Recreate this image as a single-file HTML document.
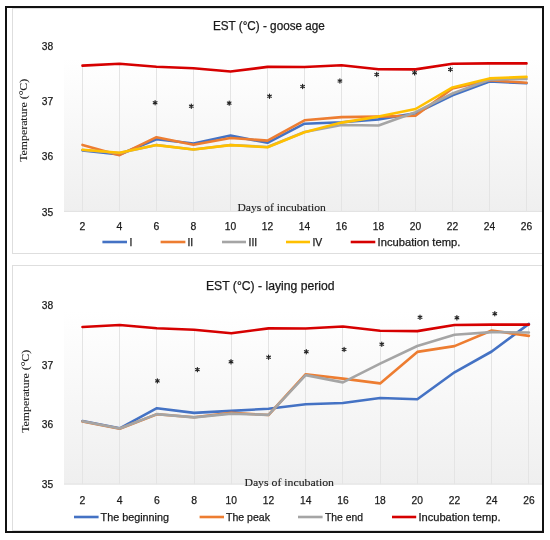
<!DOCTYPE html>
<html><head><meta charset="utf-8"><style>html,body{margin:0;padding:0;background:#fff;}svg{display:block;will-change:transform;}</style></head>
<body><svg width="550" height="540" viewBox="0 0 550 540"><rect width="550" height="540" fill="#fff"/><rect x="12.5" y="8.5" width="530" height="245" fill="#fff" stroke="#dedede" stroke-width="1"/><defs><linearGradient id="g1" x1="0" y1="0" x2="0" y2="1"><stop offset="0" stop-color="#ffffff"/><stop offset="1" stop-color="#efefef"/></linearGradient></defs><rect x="64" y="58" width="480" height="153.4" fill="url(#g1)"/><line x1="64" y1="211.4" x2="544" y2="211.4" stroke="#e0e0e0" stroke-width="1"/><line x1="82.5" y1="65.6" x2="82.5" y2="211.4" stroke="#e4e4e4" stroke-width="1"/><line x1="119.5" y1="63.8" x2="119.5" y2="211.4" stroke="#e4e4e4" stroke-width="1"/><line x1="156.5" y1="66.8" x2="156.5" y2="211.4" stroke="#e4e4e4" stroke-width="1"/><line x1="193.5" y1="68.2" x2="193.5" y2="211.4" stroke="#e4e4e4" stroke-width="1"/><line x1="230.5" y1="71.5" x2="230.5" y2="211.4" stroke="#e4e4e4" stroke-width="1"/><line x1="267.5" y1="66.9" x2="267.5" y2="211.4" stroke="#e4e4e4" stroke-width="1"/><line x1="304.5" y1="67.0" x2="304.5" y2="211.4" stroke="#e4e4e4" stroke-width="1"/><line x1="341.5" y1="65.2" x2="341.5" y2="211.4" stroke="#e4e4e4" stroke-width="1"/><line x1="378.5" y1="69.2" x2="378.5" y2="211.4" stroke="#e4e4e4" stroke-width="1"/><line x1="415.5" y1="69.4" x2="415.5" y2="211.4" stroke="#e4e4e4" stroke-width="1"/><line x1="452.5" y1="63.8" x2="452.5" y2="211.4" stroke="#e4e4e4" stroke-width="1"/><line x1="489.5" y1="63.4" x2="489.5" y2="211.4" stroke="#e4e4e4" stroke-width="1"/><line x1="526.5" y1="63.4" x2="526.5" y2="211.4" stroke="#e4e4e4" stroke-width="1"/><text x="53.2" y="49.6" font-size="11" font-family="Liberation Sans, sans-serif" fill="#1a1a1a" stroke="#1a1a1a" stroke-width="0.25" text-anchor="end" textLength="11.4" lengthAdjust="spacingAndGlyphs" >38</text><text x="53.2" y="104.9" font-size="11" font-family="Liberation Sans, sans-serif" fill="#1a1a1a" stroke="#1a1a1a" stroke-width="0.25" text-anchor="end" textLength="11.4" lengthAdjust="spacingAndGlyphs" >37</text><text x="53.2" y="160.3" font-size="11" font-family="Liberation Sans, sans-serif" fill="#1a1a1a" stroke="#1a1a1a" stroke-width="0.25" text-anchor="end" textLength="11.4" lengthAdjust="spacingAndGlyphs" >36</text><text x="53.2" y="215.6" font-size="11" font-family="Liberation Sans, sans-serif" fill="#1a1a1a" stroke="#1a1a1a" stroke-width="0.25" text-anchor="end" textLength="11.4" lengthAdjust="spacingAndGlyphs" >35</text><text x="82.5" y="229.7" font-size="11" font-family="Liberation Sans, sans-serif" fill="#1a1a1a" stroke="#1a1a1a" stroke-width="0.25" text-anchor="middle" textLength="5.8" lengthAdjust="spacingAndGlyphs" >2</text><text x="119.5" y="229.7" font-size="11" font-family="Liberation Sans, sans-serif" fill="#1a1a1a" stroke="#1a1a1a" stroke-width="0.25" text-anchor="middle" textLength="5.8" lengthAdjust="spacingAndGlyphs" >4</text><text x="156.5" y="229.7" font-size="11" font-family="Liberation Sans, sans-serif" fill="#1a1a1a" stroke="#1a1a1a" stroke-width="0.25" text-anchor="middle" textLength="5.8" lengthAdjust="spacingAndGlyphs" >6</text><text x="193.5" y="229.7" font-size="11" font-family="Liberation Sans, sans-serif" fill="#1a1a1a" stroke="#1a1a1a" stroke-width="0.25" text-anchor="middle" textLength="5.8" lengthAdjust="spacingAndGlyphs" >8</text><text x="230.5" y="229.7" font-size="11" font-family="Liberation Sans, sans-serif" fill="#1a1a1a" stroke="#1a1a1a" stroke-width="0.25" text-anchor="middle" textLength="11.4" lengthAdjust="spacingAndGlyphs" >10</text><text x="267.5" y="229.7" font-size="11" font-family="Liberation Sans, sans-serif" fill="#1a1a1a" stroke="#1a1a1a" stroke-width="0.25" text-anchor="middle" textLength="11.4" lengthAdjust="spacingAndGlyphs" >12</text><text x="304.5" y="229.7" font-size="11" font-family="Liberation Sans, sans-serif" fill="#1a1a1a" stroke="#1a1a1a" stroke-width="0.25" text-anchor="middle" textLength="11.4" lengthAdjust="spacingAndGlyphs" >14</text><text x="341.5" y="229.7" font-size="11" font-family="Liberation Sans, sans-serif" fill="#1a1a1a" stroke="#1a1a1a" stroke-width="0.25" text-anchor="middle" textLength="11.4" lengthAdjust="spacingAndGlyphs" >16</text><text x="378.5" y="229.7" font-size="11" font-family="Liberation Sans, sans-serif" fill="#1a1a1a" stroke="#1a1a1a" stroke-width="0.25" text-anchor="middle" textLength="11.4" lengthAdjust="spacingAndGlyphs" >18</text><text x="415.5" y="229.7" font-size="11" font-family="Liberation Sans, sans-serif" fill="#1a1a1a" stroke="#1a1a1a" stroke-width="0.25" text-anchor="middle" textLength="11.4" lengthAdjust="spacingAndGlyphs" >20</text><text x="452.5" y="229.7" font-size="11" font-family="Liberation Sans, sans-serif" fill="#1a1a1a" stroke="#1a1a1a" stroke-width="0.25" text-anchor="middle" textLength="11.4" lengthAdjust="spacingAndGlyphs" >22</text><text x="489.5" y="229.7" font-size="11" font-family="Liberation Sans, sans-serif" fill="#1a1a1a" stroke="#1a1a1a" stroke-width="0.25" text-anchor="middle" textLength="11.4" lengthAdjust="spacingAndGlyphs" >24</text><text x="526.5" y="229.7" font-size="11" font-family="Liberation Sans, sans-serif" fill="#1a1a1a" stroke="#1a1a1a" stroke-width="0.25" text-anchor="middle" textLength="11.4" lengthAdjust="spacingAndGlyphs" >26</text><polyline points="82.5,150.5 119.5,154.5 156.5,139.2 193.5,143.5 230.5,135.6 267.5,142.8 304.5,123.7 341.5,122.2 378.5,119.4 415.5,113.3 452.5,95.3 489.5,81.5 526.5,83.2" fill="none" stroke="#4472C4" stroke-width="2.6" stroke-linejoin="round" stroke-linecap="round"/><polyline points="82.5,144.9 119.5,155.2 156.5,137.2 193.5,144.8 230.5,138.0 267.5,140.6 304.5,120.3 341.5,117.1 378.5,116.6 415.5,115.8 452.5,88.5 489.5,80.2 526.5,82.7" fill="none" stroke="#ED7D31" stroke-width="2.6" stroke-linejoin="round" stroke-linecap="round"/><polyline points="82.5,150.0 119.5,153.0 156.5,145.0 193.5,149.5 230.5,145.0 267.5,147.0 304.5,132.0 341.5,125.0 378.5,125.5 415.5,112.2 452.5,93.5 489.5,79.7 526.5,78.9" fill="none" stroke="#A5A5A5" stroke-width="2.6" stroke-linejoin="round" stroke-linecap="round"/><polyline points="82.5,149.8 119.5,152.8 156.5,145.1 193.5,149.5 230.5,145.1 267.5,147.2 304.5,132.3 341.5,122.6 378.5,116.6 415.5,109.0 452.5,87.4 489.5,78.4 526.5,76.9" fill="none" stroke="#FFC000" stroke-width="2.6" stroke-linejoin="round" stroke-linecap="round"/><polyline points="82.5,65.6 119.5,63.8 156.5,66.8 193.5,68.2 230.5,71.5 267.5,66.9 304.5,67.0 341.5,65.2 378.5,69.2 415.5,69.4 452.5,63.8 489.5,63.4 526.5,63.4" fill="none" stroke="#D60000" stroke-width="2.6" stroke-linejoin="round" stroke-linecap="round"/><path d="M155.10,100.60L155.10,104.80M156.92,101.65L153.28,103.75M156.92,103.75L153.28,101.65" stroke="#262626" stroke-width="1.2" stroke-linecap="round"/><path d="M191.30,104.10L191.30,108.30M193.12,105.15L189.48,107.25M193.12,107.25L189.48,105.15" stroke="#262626" stroke-width="1.2" stroke-linecap="round"/><path d="M229.20,101.00L229.20,105.20M231.02,102.05L227.38,104.15M231.02,104.15L227.38,102.05" stroke="#262626" stroke-width="1.2" stroke-linecap="round"/><path d="M269.50,94.10L269.50,98.30M271.32,95.15L267.68,97.25M271.32,97.25L267.68,95.15" stroke="#262626" stroke-width="1.2" stroke-linecap="round"/><path d="M302.60,84.40L302.60,88.60M304.42,85.45L300.78,87.55M304.42,87.55L300.78,85.45" stroke="#262626" stroke-width="1.2" stroke-linecap="round"/><path d="M339.90,78.90L339.90,83.10M341.72,79.95L338.08,82.05M341.72,82.05L338.08,79.95" stroke="#262626" stroke-width="1.2" stroke-linecap="round"/><path d="M376.70,72.40L376.70,76.60M378.52,73.45L374.88,75.55M378.52,75.55L374.88,73.45" stroke="#262626" stroke-width="1.2" stroke-linecap="round"/><path d="M414.60,70.70L414.60,74.90M416.42,71.75L412.78,73.85M416.42,73.85L412.78,71.75" stroke="#262626" stroke-width="1.2" stroke-linecap="round"/><path d="M450.40,67.40L450.40,71.60M452.22,68.45L448.58,70.55M452.22,70.55L448.58,68.45" stroke="#262626" stroke-width="1.2" stroke-linecap="round"/><text x="212.9" y="29.8" font-size="12" font-family="Liberation Sans, sans-serif" fill="#1a1a1a" stroke="#1a1a1a" stroke-width="0.25" text-anchor="start" textLength="112" lengthAdjust="spacingAndGlyphs" >EST (°C) - goose age</text><text x="237.4" y="210.5" font-size="10.6" font-family="Liberation Serif, serif" fill="#1a1a1a" stroke="#1a1a1a" stroke-width="0.1" text-anchor="start" textLength="88.4" lengthAdjust="spacingAndGlyphs" >Days of incubation</text><text transform="translate(27.3,120.3) rotate(-90)" font-size="11.3" font-family="Liberation Serif, serif" fill="#1a1a1a" stroke="#1a1a1a" stroke-width="0.1" text-anchor="middle" textLength="83" lengthAdjust="spacingAndGlyphs">Temperature (°C)</text><line x1="102.4" y1="242" x2="127" y2="242" stroke="#4472C4" stroke-width="2.6"/><text x="129.5" y="245.7" font-size="10.4" font-family="Liberation Sans, sans-serif" fill="#1a1a1a" stroke="#1a1a1a" stroke-width="0.25" text-anchor="start" >I</text><line x1="160.6" y1="242" x2="185.4" y2="242" stroke="#ED7D31" stroke-width="2.6"/><text x="187.4" y="245.7" font-size="10.4" font-family="Liberation Sans, sans-serif" fill="#1a1a1a" stroke="#1a1a1a" stroke-width="0.25" text-anchor="start" >II</text><line x1="222" y1="242" x2="246" y2="242" stroke="#A5A5A5" stroke-width="2.6"/><text x="248.6" y="245.7" font-size="10.4" font-family="Liberation Sans, sans-serif" fill="#1a1a1a" stroke="#1a1a1a" stroke-width="0.25" text-anchor="start" >III</text><line x1="286" y1="242" x2="310" y2="242" stroke="#FFC000" stroke-width="2.6"/><text x="312.4" y="245.7" font-size="10.4" font-family="Liberation Sans, sans-serif" fill="#1a1a1a" stroke="#1a1a1a" stroke-width="0.25" text-anchor="start" >IV</text><line x1="350.7" y1="242" x2="375.3" y2="242" stroke="#D60000" stroke-width="2.6"/><text x="377.6" y="245.7" font-size="10.4" font-family="Liberation Sans, sans-serif" fill="#1a1a1a" stroke="#1a1a1a" stroke-width="0.25" text-anchor="start" textLength="82.7" lengthAdjust="spacingAndGlyphs" >Incubation temp.</text><rect x="12.5" y="265.5" width="530" height="265" fill="#fff" stroke="#dedede" stroke-width="1"/><defs><linearGradient id="g2" x1="0" y1="0" x2="0" y2="1"><stop offset="0" stop-color="#ffffff"/><stop offset="1" stop-color="#efefef"/></linearGradient></defs><rect x="64" y="311" width="480" height="173.10000000000002" fill="url(#g2)"/><line x1="64" y1="484.1" x2="544" y2="484.1" stroke="#e0e0e0" stroke-width="1"/><line x1="82.5" y1="327.0" x2="82.5" y2="484.1" stroke="#e4e4e4" stroke-width="1"/><line x1="119.5" y1="325.0" x2="119.5" y2="484.1" stroke="#e4e4e4" stroke-width="1"/><line x1="156.5" y1="328.3" x2="156.5" y2="484.1" stroke="#e4e4e4" stroke-width="1"/><line x1="194.5" y1="329.8" x2="194.5" y2="484.1" stroke="#e4e4e4" stroke-width="1"/><line x1="231.5" y1="333.3" x2="231.5" y2="484.1" stroke="#e4e4e4" stroke-width="1"/><line x1="268.5" y1="328.4" x2="268.5" y2="484.1" stroke="#e4e4e4" stroke-width="1"/><line x1="305.5" y1="328.5" x2="305.5" y2="484.1" stroke="#e4e4e4" stroke-width="1"/><line x1="342.5" y1="326.5" x2="342.5" y2="484.1" stroke="#e4e4e4" stroke-width="1"/><line x1="380.5" y1="330.8" x2="380.5" y2="484.1" stroke="#e4e4e4" stroke-width="1"/><line x1="417.5" y1="331.1" x2="417.5" y2="484.1" stroke="#e4e4e4" stroke-width="1"/><line x1="454.5" y1="325.0" x2="454.5" y2="484.1" stroke="#e4e4e4" stroke-width="1"/><line x1="491.5" y1="324.6" x2="491.5" y2="484.1" stroke="#e4e4e4" stroke-width="1"/><line x1="528.5" y1="323.9" x2="528.5" y2="484.1" stroke="#e4e4e4" stroke-width="1"/><text x="53.2" y="308.9" font-size="11" font-family="Liberation Sans, sans-serif" fill="#1a1a1a" stroke="#1a1a1a" stroke-width="0.25" text-anchor="end" textLength="11.4" lengthAdjust="spacingAndGlyphs" >38</text><text x="53.2" y="368.59999999999997" font-size="11" font-family="Liberation Sans, sans-serif" fill="#1a1a1a" stroke="#1a1a1a" stroke-width="0.25" text-anchor="end" textLength="11.4" lengthAdjust="spacingAndGlyphs" >37</text><text x="53.2" y="428.09999999999997" font-size="11" font-family="Liberation Sans, sans-serif" fill="#1a1a1a" stroke="#1a1a1a" stroke-width="0.25" text-anchor="end" textLength="11.4" lengthAdjust="spacingAndGlyphs" >36</text><text x="53.2" y="487.9" font-size="11" font-family="Liberation Sans, sans-serif" fill="#1a1a1a" stroke="#1a1a1a" stroke-width="0.25" text-anchor="end" textLength="11.4" lengthAdjust="spacingAndGlyphs" >35</text><text x="82.5" y="504" font-size="11" font-family="Liberation Sans, sans-serif" fill="#1a1a1a" stroke="#1a1a1a" stroke-width="0.25" text-anchor="middle" textLength="5.8" lengthAdjust="spacingAndGlyphs" >2</text><text x="119.7" y="504" font-size="11" font-family="Liberation Sans, sans-serif" fill="#1a1a1a" stroke="#1a1a1a" stroke-width="0.25" text-anchor="middle" textLength="5.8" lengthAdjust="spacingAndGlyphs" >4</text><text x="156.9" y="504" font-size="11" font-family="Liberation Sans, sans-serif" fill="#1a1a1a" stroke="#1a1a1a" stroke-width="0.25" text-anchor="middle" textLength="5.8" lengthAdjust="spacingAndGlyphs" >6</text><text x="194.1" y="504" font-size="11" font-family="Liberation Sans, sans-serif" fill="#1a1a1a" stroke="#1a1a1a" stroke-width="0.25" text-anchor="middle" textLength="5.8" lengthAdjust="spacingAndGlyphs" >8</text><text x="231.3" y="504" font-size="11" font-family="Liberation Sans, sans-serif" fill="#1a1a1a" stroke="#1a1a1a" stroke-width="0.25" text-anchor="middle" textLength="11.4" lengthAdjust="spacingAndGlyphs" >10</text><text x="268.5" y="504" font-size="11" font-family="Liberation Sans, sans-serif" fill="#1a1a1a" stroke="#1a1a1a" stroke-width="0.25" text-anchor="middle" textLength="11.4" lengthAdjust="spacingAndGlyphs" >12</text><text x="305.7" y="504" font-size="11" font-family="Liberation Sans, sans-serif" fill="#1a1a1a" stroke="#1a1a1a" stroke-width="0.25" text-anchor="middle" textLength="11.4" lengthAdjust="spacingAndGlyphs" >14</text><text x="342.9" y="504" font-size="11" font-family="Liberation Sans, sans-serif" fill="#1a1a1a" stroke="#1a1a1a" stroke-width="0.25" text-anchor="middle" textLength="11.4" lengthAdjust="spacingAndGlyphs" >16</text><text x="380.1" y="504" font-size="11" font-family="Liberation Sans, sans-serif" fill="#1a1a1a" stroke="#1a1a1a" stroke-width="0.25" text-anchor="middle" textLength="11.4" lengthAdjust="spacingAndGlyphs" >18</text><text x="417.3" y="504" font-size="11" font-family="Liberation Sans, sans-serif" fill="#1a1a1a" stroke="#1a1a1a" stroke-width="0.25" text-anchor="middle" textLength="11.4" lengthAdjust="spacingAndGlyphs" >20</text><text x="454.5" y="504" font-size="11" font-family="Liberation Sans, sans-serif" fill="#1a1a1a" stroke="#1a1a1a" stroke-width="0.25" text-anchor="middle" textLength="11.4" lengthAdjust="spacingAndGlyphs" >22</text><text x="491.7" y="504" font-size="11" font-family="Liberation Sans, sans-serif" fill="#1a1a1a" stroke="#1a1a1a" stroke-width="0.25" text-anchor="middle" textLength="11.4" lengthAdjust="spacingAndGlyphs" >24</text><text x="528.9" y="504" font-size="11" font-family="Liberation Sans, sans-serif" fill="#1a1a1a" stroke="#1a1a1a" stroke-width="0.25" text-anchor="middle" textLength="11.4" lengthAdjust="spacingAndGlyphs" >26</text><polyline points="82.5,421.0 119.7,428.3 156.9,408.2 194.1,412.9 231.3,410.9 268.5,408.7 305.7,404.2 342.9,403.0 380.1,398.0 417.3,399.2 454.5,372.3 491.7,351.5 528.9,323.9" fill="none" stroke="#4472C4" stroke-width="2.6" stroke-linejoin="round" stroke-linecap="round"/><polyline points="82.5,421.5 119.7,428.8 156.9,414.3 194.1,417.2 231.3,412.9 268.5,415.0 305.7,374.2 342.9,378.6 380.1,383.4 417.3,351.9 454.5,346.1 491.7,330.5 528.9,335.9" fill="none" stroke="#ED7D31" stroke-width="2.6" stroke-linejoin="round" stroke-linecap="round"/><polyline points="82.5,421.2 119.7,428.5 156.9,414.1 194.1,417.4 231.3,413.6 268.5,414.9 305.7,375.1 342.9,382.4 380.1,363.7 417.3,346.0 454.5,334.8 491.7,332.1 528.9,332.5" fill="none" stroke="#A5A5A5" stroke-width="2.6" stroke-linejoin="round" stroke-linecap="round"/><polyline points="82.5,327.0 119.7,325.0 156.9,328.3 194.1,329.8 231.3,333.3 268.5,328.4 305.7,328.5 342.9,326.5 380.1,330.8 417.3,331.1 454.5,325.0 491.7,324.6 528.9,324.6" fill="none" stroke="#D60000" stroke-width="2.6" stroke-linejoin="round" stroke-linecap="round"/><path d="M157.40,378.80L157.40,383.00M159.22,379.85L155.58,381.95M159.22,381.95L155.58,379.85" stroke="#262626" stroke-width="1.2" stroke-linecap="round"/><path d="M197.40,367.50L197.40,371.70M199.22,368.55L195.58,370.65M199.22,370.65L195.58,368.55" stroke="#262626" stroke-width="1.2" stroke-linecap="round"/><path d="M231.00,359.70L231.00,363.90M232.82,360.75L229.18,362.85M232.82,362.85L229.18,360.75" stroke="#262626" stroke-width="1.2" stroke-linecap="round"/><path d="M268.60,355.10L268.60,359.30M270.42,356.15L266.78,358.25M270.42,358.25L266.78,356.15" stroke="#262626" stroke-width="1.2" stroke-linecap="round"/><path d="M306.30,349.60L306.30,353.80M308.12,350.65L304.48,352.75M308.12,352.75L304.48,350.65" stroke="#262626" stroke-width="1.2" stroke-linecap="round"/><path d="M344.10,347.40L344.10,351.60M345.92,348.45L342.28,350.55M345.92,350.55L342.28,348.45" stroke="#262626" stroke-width="1.2" stroke-linecap="round"/><path d="M381.80,342.10L381.80,346.30M383.62,343.15L379.98,345.25M383.62,345.25L379.98,343.15" stroke="#262626" stroke-width="1.2" stroke-linecap="round"/><path d="M420.00,315.20L420.00,319.40M421.82,316.25L418.18,318.35M421.82,318.35L418.18,316.25" stroke="#262626" stroke-width="1.2" stroke-linecap="round"/><path d="M456.90,315.70L456.90,319.90M458.72,316.75L455.08,318.85M458.72,318.85L455.08,316.75" stroke="#262626" stroke-width="1.2" stroke-linecap="round"/><path d="M494.80,311.60L494.80,315.80M496.62,312.65L492.98,314.75M496.62,314.75L492.98,312.65" stroke="#262626" stroke-width="1.2" stroke-linecap="round"/><text x="206" y="290.3" font-size="12" font-family="Liberation Sans, sans-serif" fill="#1a1a1a" stroke="#1a1a1a" stroke-width="0.25" text-anchor="start" textLength="128.5" lengthAdjust="spacingAndGlyphs" >EST (°C) - laying period</text><text x="244.4" y="486" font-size="10.6" font-family="Liberation Serif, serif" fill="#1a1a1a" stroke="#1a1a1a" stroke-width="0.1" text-anchor="start" textLength="89.6" lengthAdjust="spacingAndGlyphs" >Days of incubation</text><text transform="translate(28.7,391.3) rotate(-90)" font-size="11.3" font-family="Liberation Serif, serif" fill="#1a1a1a" stroke="#1a1a1a" stroke-width="0.1" text-anchor="middle" textLength="83" lengthAdjust="spacingAndGlyphs">Temperature (°C)</text><line x1="74" y1="517" x2="98.6" y2="517" stroke="#4472C4" stroke-width="2.6"/><text x="100.6" y="520.7" font-size="10.4" font-family="Liberation Sans, sans-serif" fill="#1a1a1a" stroke="#1a1a1a" stroke-width="0.25" text-anchor="start" textLength="68.4" lengthAdjust="spacingAndGlyphs" >The beginning</text><line x1="199.6" y1="517" x2="224" y2="517" stroke="#ED7D31" stroke-width="2.6"/><text x="226" y="520.7" font-size="10.4" font-family="Liberation Sans, sans-serif" fill="#1a1a1a" stroke="#1a1a1a" stroke-width="0.25" text-anchor="start" textLength="44" lengthAdjust="spacingAndGlyphs" >The peak</text><line x1="298" y1="517" x2="322.6" y2="517" stroke="#A5A5A5" stroke-width="2.6"/><text x="325" y="520.7" font-size="10.4" font-family="Liberation Sans, sans-serif" fill="#1a1a1a" stroke="#1a1a1a" stroke-width="0.25" text-anchor="start" textLength="38" lengthAdjust="spacingAndGlyphs" >The end</text><line x1="392" y1="517" x2="416.2" y2="517" stroke="#D60000" stroke-width="2.6"/><text x="418.4" y="520.7" font-size="10.4" font-family="Liberation Sans, sans-serif" fill="#1a1a1a" stroke="#1a1a1a" stroke-width="0.25" text-anchor="start" textLength="82.2" lengthAdjust="spacingAndGlyphs" >Incubation temp.</text><rect x="6" y="7" width="537" height="525" fill="none" stroke="#111" stroke-width="2"/></svg></body></html>
